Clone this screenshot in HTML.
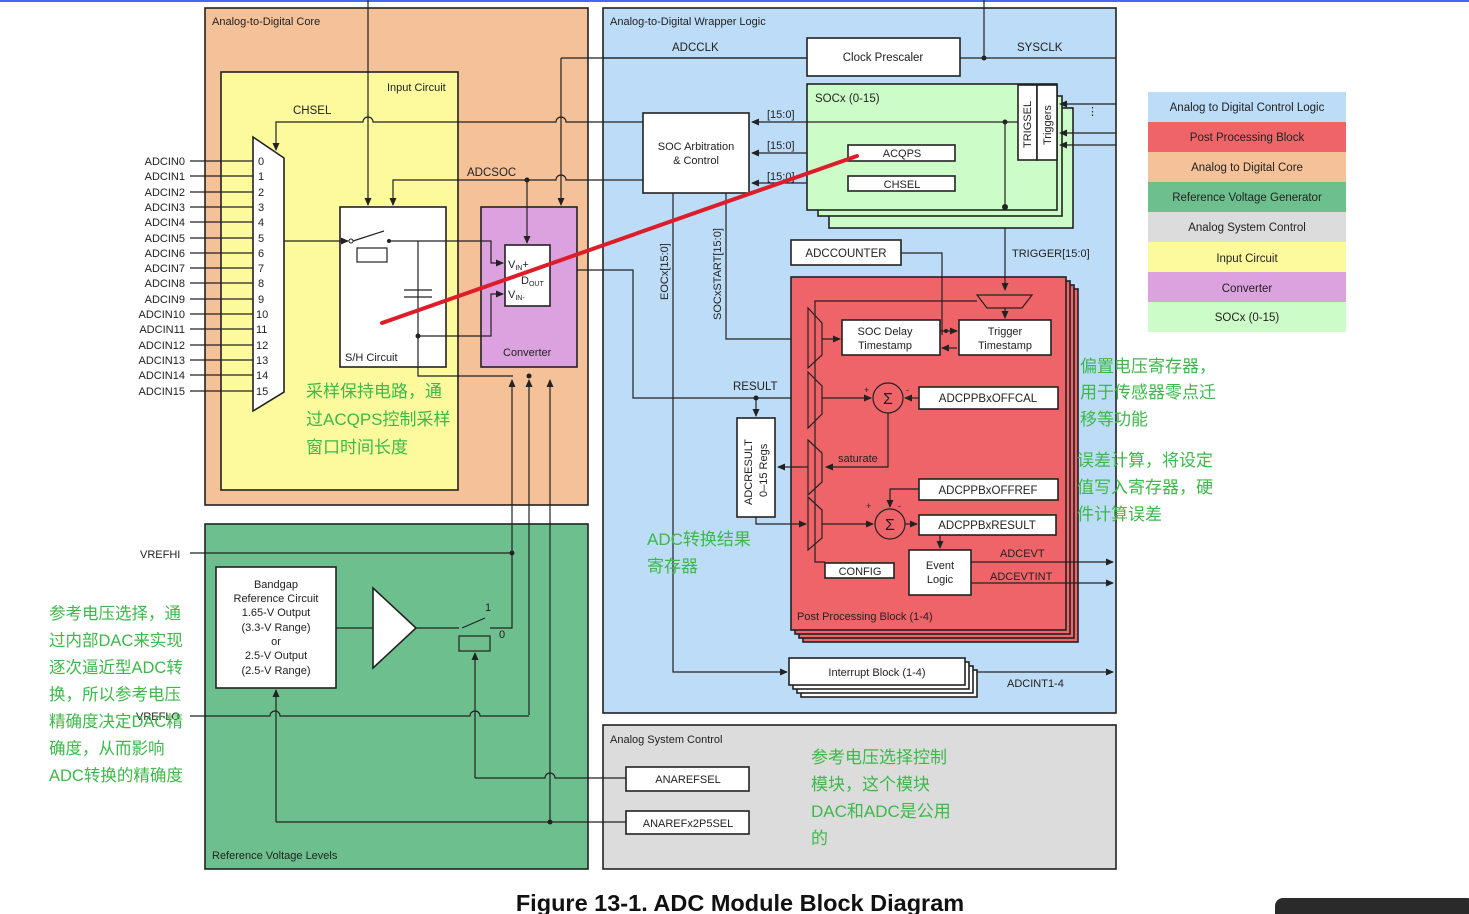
<!DOCTYPE html>
<html><head><meta charset="utf-8"><style>
html,body{margin:0;padding:0;background:#fff;}
svg{display:block;font-family:"Liberation Sans","Noto Sans CJK SC",sans-serif;}
.t{font-size:11.5px;fill:#222;}
.s{font-size:11px;fill:#222;}
.cn{font-size:17px;fill:#3db84a;font-family:"Liberation Sans","Noto Sans CJK SC",sans-serif;}
.l{stroke:#222;stroke-width:1.2;fill:none;}
.b{stroke:#222;stroke-width:1.6;}
</style></head><body>
<svg width="1469" height="914" viewBox="0 0 1469 914" xmlns="http://www.w3.org/2000/svg">
<defs><marker id="a" markerWidth="8" markerHeight="8" refX="7" refY="4" orient="auto" markerUnits="userSpaceOnUse"><path d="M0,0.5 L8,4 L0,7.5z" fill="#222"/></marker></defs>
<rect x="0" y="0" width="1469" height="2" fill="#3a6df0"/>
<rect x="205" y="8" width="383" height="497" fill="#f5c198" class="b"/>
<rect x="221" y="72" width="237" height="418" fill="#fcfa9c" class="b"/>
<rect x="603" y="8" width="513" height="705" fill="#bcdcf7" class="b"/>
<rect x="205" y="524" width="383" height="345" fill="#6dc08e" class="b"/>
<rect x="603" y="725" width="513" height="144" fill="#dcdcdc" class="b"/>
<text x="212" y="25" class="s">Analog-to-Digital Core</text>
<text x="387" y="91" class="s">Input Circuit</text>
<text x="610" y="25" class="s">Analog-to-Digital Wrapper Logic</text>
<text x="212" y="859" class="s">Reference Voltage Levels</text>
<text x="610" y="743" class="s">Analog System Control</text>
<g class="l">
<path d="M190,161H253M190,176H253M190,192H253M190,207H253M190,222H253M190,238H253M190,253H253M190,268H253M190,283H253M190,299H253M190,314H253M190,329H253M190,345H253M190,360H253M190,375H253M190,391H253"/>
</g>
<g class="s" text-anchor="end">
<text x="185" y="165">ADCIN0</text><text x="185" y="180">ADCIN1</text><text x="185" y="196">ADCIN2</text><text x="185" y="211">ADCIN3</text><text x="185" y="226">ADCIN4</text><text x="185" y="242">ADCIN5</text><text x="185" y="257">ADCIN6</text><text x="185" y="272">ADCIN7</text><text x="185" y="287">ADCIN8</text><text x="185" y="303">ADCIN9</text><text x="185" y="318">ADCIN10</text><text x="185" y="333">ADCIN11</text><text x="185" y="349">ADCIN12</text><text x="185" y="364">ADCIN13</text><text x="185" y="379">ADCIN14</text><text x="185" y="395">ADCIN15</text>
</g>
<polygon points="253,137 284,158 284,392 253,411" fill="#fff" class="b"/>
<g class="s"><text x="258" y="165">0</text><text x="258" y="180">1</text><text x="258" y="196">2</text><text x="258" y="211">3</text><text x="258" y="226">4</text><text x="258" y="242">5</text><text x="258" y="257">6</text><text x="258" y="272">7</text><text x="258" y="287">8</text><text x="258" y="303">9</text><text x="256" y="318">10</text><text x="256" y="333">11</text><text x="256" y="349">12</text><text x="256" y="364">13</text><text x="256" y="379">14</text><text x="256" y="395">15</text></g>
<g class="l">
<path d="M643,122H566a5,5 0 0 0 -10,0H373a5,5 0 0 0 -10,0H276V150" marker-end="url(#a)"/>
<path d="M368,0V205" marker-end="url(#a)"/>
<path d="M643,180H566a5,5 0 0 0 -10,0H393V205" marker-end="url(#a)"/>
<path d="M561,58H807M561,58V205" marker-end="url(#a)"/>
<path d="M550,270H633V398H807"/>
</g>
<text x="293" y="114" class="t">CHSEL</text>
<text x="467" y="176" class="t">ADCSOC</text>
<!-- S/H -->
<rect x="340" y="207" width="106" height="160" fill="#fff" class="b"/>
<rect x="481" y="207" width="96" height="160" fill="#dca2e0" class="b"/>
<rect x="505" y="245" width="45" height="61" fill="#fff" class="b"/>
<g class="l">
<path d="M527,180V243" marker-end="url(#a)"/>
<path d="M284,241H348" marker-end="url(#a)"/>
<path d="M353,241L384,231"/>
<path d="M390,241H491V263H503" marker-end="url(#a)"/>
<path d="M418,241V376H513"/>
<path d="M418,336H491V294H503" marker-end="url(#a)"/>
<path d="M404,290H432M404,297H432"/>
</g>
<rect x="357" y="248" width="30" height="14" fill="#fff" class="l"/>
<circle cx="527" cy="180" r="2.5" fill="#222"/>
<circle cx="351" cy="241" r="2" fill="#fff" stroke="#222"/>
<circle cx="389" cy="241" r="2" fill="#222"/><circle cx="418" cy="336" r="2.5" fill="#222"/>
<text x="345" y="361" class="s">S/H Circuit</text>
<text x="508" y="268" class="s">V<tspan font-size="7" dy="2">IN</tspan><tspan dy="-2">+</tspan></text>
<text x="521" y="284" class="s">D<tspan font-size="7" dy="2">OUT</tspan></text>
<text x="508" y="298" class="s">V<tspan font-size="7" dy="2">IN-</tspan></text>
<text x="503" y="356" class="s">Converter</text>
<g class="l">
<path d="M512,553V380" marker-end="url(#a)"/>
<path d="M529,715V380" marker-end="url(#a)"/>
<path d="M550,822V380" marker-end="url(#a)"/>
<path d="M190,553H512"/>
<path d="M190,716H270a5,5 0 0 1 10,0H470a5,5 0 0 1 10,0H529"/>
<path d="M276,822V690" marker-end="url(#a)"/>
<path d="M276,822H626"/>
<path d="M475,778V653" marker-end="url(#a)"/>
<path d="M475,778H545a5,5 0 0 1 10,0H626"/>
<path d="M336,628H373M416,628H459M490,628H512V553"/>
</g>
<circle cx="512" cy="553" r="2.5" fill="#222"/><circle cx="529" cy="376" r="2.5" fill="#222"/><circle cx="550" cy="822" r="2.5" fill="#222"/>
<text x="140" y="558" class="s">VREFHI</text>
<text x="136" y="720" class="s">VREFLO</text>
<rect x="216" y="567" width="120" height="121" fill="#fff" class="b"/>
<g class="s" text-anchor="middle"><text x="276" y="588">Bandgap</text><text x="276" y="602">Reference Circuit</text><text x="276" y="616">1.65-V Output</text><text x="276" y="631">(3.3-V Range)</text><text x="276" y="645">or</text><text x="276" y="659">2.5-V Output</text><text x="276" y="674">(2.5-V Range)</text></g>
<polygon points="373,588 416,628 373,668" fill="#fff" class="b"/>
<path d="M462,628L485,618" class="l"/>
<rect x="459" y="636" width="31" height="15" fill="#fff" class="l"/>
<text x="485" y="611" class="s">1</text><text x="499" y="638" class="s">0</text>
<!-- wrapper -->
<g class="l">
<path d="M603,58H807M960,58H1116M984,0V58"/>
<path d="M807,122H752" marker-end="url(#a)"/>
<path d="M848,153H752" marker-end="url(#a)"/>
<path d="M848,183H752" marker-end="url(#a)"/>
<path d="M1005,210V290" marker-end="url(#a)"/>
<path d="M673,193V672H787" marker-end="url(#a)"/>
<path d="M726,193V339H806" marker-end="url(#a)"/>
<path d="M901,253H942V335"/>
</g>
<circle cx="984" cy="58" r="2.5" fill="#222"/>
<text x="672" y="51" class="t">ADCCLK</text><text x="1017" y="51" class="t">SYSCLK</text>
<rect x="807" y="38" width="153" height="38" fill="#fff" class="b"/>
<text x="883" y="61" class="t" text-anchor="middle">Clock Prescaler</text>
<rect x="829" y="108" width="244" height="120" fill="#ccfcc8" class="b"/>
<rect x="818" y="96" width="244" height="120" fill="#ccfcc8" class="b"/>
<rect x="807" y="84" width="250" height="126" fill="#ccfcc8" class="b"/>
<g class="l">
<path d="M1116,104H1060" marker-end="url(#a)"/>
<path d="M1116,133H1060" marker-end="url(#a)"/>
<path d="M1116,145H1060" marker-end="url(#a)"/>
<path d="M807,122H1018M1005,122V208"/>
</g>
<circle cx="1005" cy="122" r="2.5" fill="#222"/><circle cx="1005" cy="207" r="3" fill="#222"/>
<rect x="1018" y="85" width="19" height="75" fill="#fff" class="b"/><rect x="1037" y="85" width="20" height="75" fill="#fff" class="b"/>
<text transform="translate(1031,148) rotate(-90)" class="s">TRIGSEL</text>
<text transform="translate(1051,145) rotate(-90)" class="s">Triggers</text>
<text x="815" y="102" class="t">SOCx (0-15)</text>
<text x="1087" y="115" class="s">⋮</text>
<rect x="848" y="145" width="107" height="16" fill="#fff" class="b"/><text x="902" y="157" class="s" text-anchor="middle">ACQPS</text>
<rect x="848" y="176" width="107" height="15" fill="#fff" class="b"/><text x="902" y="188" class="s" text-anchor="middle">CHSEL</text>
<text x="767" y="118" class="s">[15:0]</text><text x="767" y="149" class="s">[15:0]</text><text x="767" y="180" class="s">[15:0]</text>
<rect x="643" y="113" width="106" height="80" fill="#fff" class="b"/>
<text x="696" y="150" class="s" text-anchor="middle">SOC Arbitration</text><text x="696" y="164" class="s" text-anchor="middle">&amp; Control</text>
<text transform="translate(668,300) rotate(-90)" class="s">EOCx[15:0]</text>
<text transform="translate(721,320) rotate(-90)" class="s">SOCxSTART[15:0]</text>
<rect x="791" y="240" width="110" height="25" fill="#fff" class="b"/><text x="846" y="257" class="t" text-anchor="middle">ADCCOUNTER</text>
<text x="1012" y="257" class="s">TRIGGER[15:0]</text>
<!-- post processing -->
<rect x="803" y="289" width="275" height="353" fill="#ee6468" class="b"/>
<rect x="799" y="285" width="275" height="353" fill="#ee6468" class="b"/>
<rect x="795" y="281" width="275" height="353" fill="#ee6468" class="b"/>
<rect x="791" y="277" width="275" height="353" fill="#ee6468" class="b"/>
<g class="l">
<path d="M1005,277V290" marker-end="url(#a)"/>
<path d="M942,277V335"/>
<path d="M1005,308V318" marker-end="url(#a)"/>
<path d="M977,301H815V562H825"/>
<path d="M822,339H840" marker-end="url(#a)"/>
<path d="M940,331H957" marker-end="url(#a)"/>
<path d="M957,348H942" marker-end="url(#a)"/>
<path d="M822,398H871" marker-end="url(#a)"/>
<path d="M919,398H905" marker-end="url(#a)"/>
<path d="M888,413V467H826" marker-end="url(#a)"/>
<path d="M808,467H778" marker-end="url(#a)"/>
<path d="M756,398V416" marker-end="url(#a)"/>
<path d="M756,517V524H806" marker-end="url(#a)"/>
<path d="M822,524H873" marker-end="url(#a)"/>
<path d="M905,524H917" marker-end="url(#a)"/>
<path d="M919,489H890V507" marker-end="url(#a)"/>
<path d="M940,535V548" marker-end="url(#a)"/>
<path d="M971,562H1113" marker-end="url(#a)"/>
<path d="M971,583H1113" marker-end="url(#a)"/>
</g>
<circle cx="756" cy="398" r="2.5" fill="#222"/><circle cx="946" cy="331" r="2" fill="#222"/>
<text x="733" y="390" class="t">RESULT</text>
<polygon points="977,295 1032,295 1022,308 987,308" fill="#fff" class="l"/>
<polygon points="808,308 822,323 822,355 808,368" fill="#fff" class="l"/>
<polygon points="808,372 822,386 822,414 808,428" fill="#fff" class="l"/>
<polygon points="808,440 822,453 822,482 808,495" fill="#fff" class="l"/>
<polygon points="808,497 822,510 822,538 808,550" fill="#fff" class="l"/>
<rect x="842" y="320" width="98" height="35" fill="#fff" class="b"/><text x="885" y="335" class="s" text-anchor="middle">SOC Delay</text><text x="885" y="349" class="s" text-anchor="middle">Timestamp</text>
<rect x="959" y="320" width="92" height="35" fill="#fff" class="b"/><text x="1005" y="335" class="s" text-anchor="middle">Trigger</text><text x="1005" y="349" class="s" text-anchor="middle">Timestamp</text>
<circle cx="888" cy="398" r="15" fill="#fff" class="l"/><text x="888" y="404" font-size="16" text-anchor="middle" fill="#222">Σ</text>
<circle cx="890" cy="524" r="15" fill="#fff" class="l"/><text x="890" y="530" font-size="16" text-anchor="middle" fill="#222">Σ</text>
<text x="864" y="393" font-size="9" fill="#222">+</text><text x="906" y="393" font-size="9" fill="#222">-</text>
<text x="866" y="509" font-size="9" fill="#222">+</text><text x="898" y="509" font-size="9" fill="#222">-</text>
<rect x="919" y="387" width="139" height="22" fill="#fff" class="b"/><text x="988" y="402" class="t" text-anchor="middle">ADCPPBxOFFCAL</text>
<text x="838" y="462" class="s">saturate</text>
<rect x="919" y="479" width="139" height="21" fill="#fff" class="b"/><text x="988" y="494" class="t" text-anchor="middle">ADCPPBxOFFREF</text>
<rect x="919" y="515" width="137" height="20" fill="#fff" class="b"/><text x="987" y="529" class="t" text-anchor="middle">ADCPPBxRESULT</text>
<rect x="909" y="550" width="62" height="45" fill="#fff" class="b"/><text x="940" y="569" class="s" text-anchor="middle">Event</text><text x="940" y="583" class="s" text-anchor="middle">Logic</text>
<rect x="825" y="563" width="69" height="15" fill="#fff" class="b"/><text x="860" y="575" class="s" text-anchor="middle">CONFIG</text>
<text x="1000" y="557" class="s">ADCEVT</text><text x="990" y="580" class="s">ADCEVTINT</text>
<text x="797" y="620" class="s">Post Processing Block (1-4)</text>
<rect x="737" y="418" width="38" height="99" fill="#fff" class="b"/>
<text transform="translate(752,505) rotate(-90)" class="s">ADCRESULT</text>
<text transform="translate(767,497) rotate(-90)" class="s">0–15 Regs</text>
<rect x="801" y="670" width="176" height="27" fill="#fff" class="b"/>
<rect x="797" y="666" width="176" height="27" fill="#fff" class="b"/>
<rect x="793" y="662" width="176" height="27" fill="#fff" class="b"/>
<rect x="789" y="658" width="176" height="27" fill="#fff" class="b"/>
<text x="877" y="676" class="s" text-anchor="middle">Interrupt Block (1-4)</text>
<path d="M977,672H1113" class="l" marker-end="url(#a)"/>
<text x="1007" y="687" class="s">ADCINT1-4</text>
<rect x="626" y="767" width="123" height="24" fill="#fff" class="b"/><text x="688" y="783" class="s" text-anchor="middle">ANAREFSEL</text>
<rect x="626" y="811" width="123" height="23" fill="#fff" class="b"/><text x="688" y="827" class="s" text-anchor="middle">ANAREFx2P5SEL</text>
<line x1="382" y1="323" x2="857" y2="156" stroke="#dd1d2a" stroke-width="4" stroke-linecap="round"/>
<g font-size="11.5" text-anchor="middle" fill="#222">
<rect x="1148" y="92" width="198" height="30" fill="#bcdcf7"/><text x="1247" y="111">Analog to Digital Control Logic</text>
<rect x="1148" y="122" width="198" height="30" fill="#ee6468"/><text x="1247" y="141">Post Processing Block</text>
<rect x="1148" y="152" width="198" height="30" fill="#f5c198"/><text x="1247" y="171">Analog to Digital Core</text>
<rect x="1148" y="182" width="198" height="30" fill="#6dc08e"/><text x="1247" y="201">Reference Voltage Generator</text>
<rect x="1148" y="212" width="198" height="30" fill="#dcdcdc"/><text x="1247" y="231">Analog System Control</text>
<rect x="1148" y="242" width="198" height="30" fill="#fcfa9c"/><text x="1247" y="262">Input Circuit</text>
<rect x="1148" y="272" width="198" height="30" fill="#dca2e0"/><text x="1247" y="292">Converter</text>
<rect x="1148" y="302" width="198" height="30" fill="#ccfcc8"/><text x="1247" y="321">SOCx (0-15)</text>
</g>
<g class="cn">
<text x="306" y="397">采样保持电路，通</text><text x="306" y="425">过ACQPS控制采样</text><text x="306" y="453">窗口时间长度</text>
<text x="1080" y="372">偏置电压寄存器，</text><text x="1080" y="398">用于传感器零点迁</text><text x="1080" y="425">移等功能</text>
<text x="1077" y="466">误差计算，将设定</text><text x="1077" y="493">值写入寄存器，硬</text><text x="1077" y="520">件计算误差</text>
<text x="647" y="545">ADC转换结果</text><text x="647" y="572">寄存器</text>
<g font-size="16.5"><text x="49" y="619">参考电压选择，通</text><text x="49" y="646">过内部DAC来实现</text><text x="49" y="673">逐次逼近型ADC转</text><text x="49" y="700">换，所以参考电压</text><text x="49" y="727">精确度决定DAC精</text><text x="49" y="754">确度，从而影响</text><text x="49" y="781">ADC转换的精确度</text></g>
<text x="811" y="763">参考电压选择控制</text><text x="811" y="790">模块，这个模块</text><text x="811" y="817">DAC和ADC是公用</text><text x="811" y="844">的</text>
</g>
<text x="740" y="911" font-size="23.5" font-weight="bold" text-anchor="middle" fill="#111">Figure 13-1. ADC Module Block Diagram</text>
<rect x="1275" y="898" width="200" height="30" rx="8" fill="#2a2a2a"/>
</svg>
</body></html>
